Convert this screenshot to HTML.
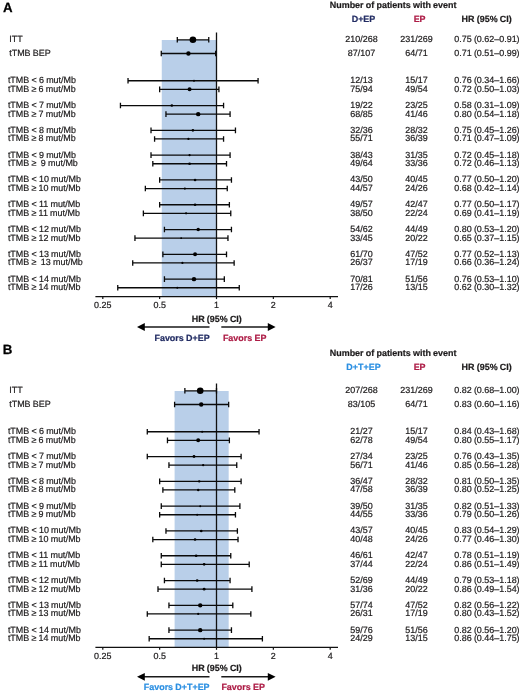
<!DOCTYPE html>
<html lang="en"><head><meta charset="utf-8"><title>Forest plot</title>
<style>html,body{margin:0;padding:0;background:#fff}body{width:520px;height:692px;overflow:hidden}svg{display:block}svg text{stroke:#1c1a1b;stroke-width:0.2px;word-spacing:-0.25px;text-rendering:geometricPrecision}</style>
</head><body>
<svg width="520" height="692" viewBox="0 0 520 692" font-family="'Liberation Sans', sans-serif" font-size="8.95" fill="#1c1a1b">
<rect width="520" height="692" fill="#fff"/>
<rect x="161.77" y="40.00" width="54.40" height="256.60" fill="#b9cfe9"/>
<line x1="216.5" y1="32.50" x2="216.5" y2="296.60" stroke="#111" stroke-width="1.3"/>
<line x1="95.4" y1="296.60" x2="338" y2="296.60" stroke="#111" stroke-width="1.2"/>
<line x1="102.80" y1="296.60" x2="102.80" y2="299.10" stroke="#111" stroke-width="1.2"/>
<text x="102.80" y="308.30" text-anchor="middle">0.25</text>
<line x1="159.65" y1="296.60" x2="159.65" y2="299.10" stroke="#111" stroke-width="1.2"/>
<text x="159.65" y="308.30" text-anchor="middle">0.5</text>
<line x1="216.50" y1="296.60" x2="216.50" y2="299.10" stroke="#111" stroke-width="1.2"/>
<text x="216.50" y="308.30" text-anchor="middle">1</text>
<line x1="273.35" y1="296.60" x2="273.35" y2="299.10" stroke="#111" stroke-width="1.2"/>
<text x="273.35" y="308.30" text-anchor="middle">2</text>
<line x1="330.20" y1="296.60" x2="330.20" y2="299.10" stroke="#111" stroke-width="1.2"/>
<text x="330.20" y="308.30" text-anchor="middle">4</text>
<text x="2.9" y="12" font-size="13.3" font-weight="bold" style="fill:#000;stroke:#000;stroke-width:.25px">A</text>
<text x="329.8" y="7.5" font-weight="bold">Number of patients with event</text>
<text x="363.5" y="21.7" font-weight="bold" text-anchor="middle" style="fill:#222c63;stroke:#222c63">D+EP</text>
<text x="419.6" y="21.7" font-weight="bold" text-anchor="middle" style="fill:#ad1b45;stroke:#ad1b45">EP</text>
<text x="486.7" y="21.7" font-weight="bold" text-anchor="middle">HR (95% CI)</text>
<text x="9.2" y="42.10" xml:space="preserve">ITT</text>
<text x="361.5" y="42.10" text-anchor="middle">210/268</text>
<text x="416.5" y="42.10" text-anchor="middle">231/269</text>
<text x="519.6" y="42.10" text-anchor="end">0.75 (0.62–0.91)</text>
<path d="M177.29 39.80H208.76M177.29 37.00V42.60M208.76 37.00V42.60" stroke="#0a0a0a" stroke-width="1.3" fill="none"/>
<circle cx="192.91" cy="39.80" r="3.30" fill="#000"/>
<text x="9.2" y="55.80" xml:space="preserve">tTMB BEP</text>
<text x="361.5" y="55.80" text-anchor="middle">87/107</text>
<text x="416.5" y="55.80" text-anchor="middle">64/71</text>
<text x="519.6" y="55.80" text-anchor="end">0.71 (0.51–0.99)</text>
<path d="M161.27 53.50H215.68M161.27 50.70V56.30M215.68 50.70V56.30" stroke="#0a0a0a" stroke-width="1.3" fill="none"/>
<circle cx="188.41" cy="53.50" r="2.20" fill="#000"/>
<text x="7.9" y="83.25" xml:space="preserve">tTMB &lt; 6 mut/Mb</text>
<text x="361.5" y="83.25" text-anchor="middle">12/13</text>
<text x="416.5" y="83.25" text-anchor="middle">15/17</text>
<text x="519.6" y="83.25" text-anchor="end">0.76 (0.34–1.66)</text>
<path d="M128.02 80.75H258.07M128.02 77.95V83.55M258.07 77.95V83.55" stroke="#0a0a0a" stroke-width="1.3" fill="none"/>
<circle cx="193.99" cy="80.75" r="1.10" fill="#000"/>
<text x="7.9" y="91.85" xml:space="preserve">tTMB ≥ 6 mut/Mb</text>
<text x="361.5" y="91.85" text-anchor="middle">75/94</text>
<text x="416.5" y="91.85" text-anchor="middle">49/54</text>
<text x="519.6" y="91.85" text-anchor="end">0.72 (0.50–1.03)</text>
<path d="M159.65 89.35H218.92M159.65 86.55V92.15M218.92 86.55V92.15" stroke="#0a0a0a" stroke-width="1.3" fill="none"/>
<circle cx="189.56" cy="89.35" r="1.98" fill="#000"/>
<text x="7.9" y="108.05" xml:space="preserve">tTMB &lt; 7 mut/Mb</text>
<text x="361.5" y="108.05" text-anchor="middle">19/22</text>
<text x="416.5" y="108.05" text-anchor="middle">23/25</text>
<text x="519.6" y="108.05" text-anchor="end">0.58 (0.31–1.09)</text>
<path d="M120.44 105.55H223.57M120.44 102.75V108.35M223.57 102.75V108.35" stroke="#0a0a0a" stroke-width="1.3" fill="none"/>
<circle cx="171.82" cy="105.55" r="1.32" fill="#000"/>
<text x="7.9" y="116.65" xml:space="preserve">tTMB ≥ 7 mut/Mb</text>
<text x="361.5" y="116.65" text-anchor="middle">68/85</text>
<text x="416.5" y="116.65" text-anchor="middle">41/46</text>
<text x="519.6" y="116.65" text-anchor="end">0.80 (0.54–1.18)</text>
<path d="M165.96 114.15H230.08M165.96 111.35V116.95M230.08 111.35V116.95" stroke="#0a0a0a" stroke-width="1.3" fill="none"/>
<circle cx="198.20" cy="114.15" r="2.20" fill="#000"/>
<text x="7.9" y="132.85" xml:space="preserve">tTMB &lt; 8 mut/Mb</text>
<text x="361.5" y="132.85" text-anchor="middle">32/36</text>
<text x="416.5" y="132.85" text-anchor="middle">28/32</text>
<text x="519.6" y="132.85" text-anchor="end">0.75 (0.45–1.26)</text>
<path d="M151.01 130.35H235.46M151.01 127.55V133.15M235.46 127.55V133.15" stroke="#0a0a0a" stroke-width="1.3" fill="none"/>
<circle cx="192.91" cy="130.35" r="1.32" fill="#000"/>
<text x="7.9" y="141.45" xml:space="preserve">tTMB ≥ 8 mut/Mb</text>
<text x="361.5" y="141.45" text-anchor="middle">55/71</text>
<text x="416.5" y="141.45" text-anchor="middle">36/39</text>
<text x="519.6" y="141.45" text-anchor="end">0.71 (0.47–1.09)</text>
<path d="M154.58 138.95H223.57M154.58 136.15V141.75M223.57 136.15V141.75" stroke="#0a0a0a" stroke-width="1.3" fill="none"/>
<circle cx="188.41" cy="138.95" r="1.10" fill="#000"/>
<text x="7.9" y="157.65" xml:space="preserve">tTMB &lt; 9 mut/Mb</text>
<text x="361.5" y="157.65" text-anchor="middle">38/43</text>
<text x="416.5" y="157.65" text-anchor="middle">31/35</text>
<text x="519.6" y="157.65" text-anchor="end">0.72 (0.45–1.18)</text>
<path d="M151.01 155.15H230.08M151.01 152.35V157.95M230.08 152.35V157.95" stroke="#0a0a0a" stroke-width="1.3" fill="none"/>
<circle cx="189.56" cy="155.15" r="1.10" fill="#000"/>
<text x="7.9" y="166.25" xml:space="preserve">tTMB ≥  9 mut/Mb</text>
<text x="361.5" y="166.25" text-anchor="middle">49/64</text>
<text x="416.5" y="166.25" text-anchor="middle">33/36</text>
<text x="519.6" y="166.25" text-anchor="end">0.72 (0.46–1.13)</text>
<path d="M152.81 163.75H226.52M152.81 160.95V166.55M226.52 160.95V166.55" stroke="#0a0a0a" stroke-width="1.3" fill="none"/>
<circle cx="189.56" cy="163.75" r="1.32" fill="#000"/>
<text x="7.9" y="182.45" xml:space="preserve">tTMB &lt; 10 mut/Mb</text>
<text x="361.5" y="182.45" text-anchor="middle">43/50</text>
<text x="416.5" y="182.45" text-anchor="middle">40/45</text>
<text x="519.6" y="182.45" text-anchor="end">0.77 (0.50–1.20)</text>
<path d="M159.65 179.95H231.45M159.65 177.15V182.75M231.45 177.15V182.75" stroke="#0a0a0a" stroke-width="1.3" fill="none"/>
<circle cx="195.06" cy="179.95" r="1.32" fill="#000"/>
<text x="7.9" y="191.05" xml:space="preserve">tTMB ≥ 10 mut/Mb</text>
<text x="361.5" y="191.05" text-anchor="middle">44/57</text>
<text x="416.5" y="191.05" text-anchor="middle">24/26</text>
<text x="519.6" y="191.05" text-anchor="end">0.68 (0.42–1.14)</text>
<path d="M145.35 188.55H227.25M145.35 185.75V191.35M227.25 185.75V191.35" stroke="#0a0a0a" stroke-width="1.3" fill="none"/>
<circle cx="184.87" cy="188.55" r="1.10" fill="#000"/>
<text x="7.9" y="207.25" xml:space="preserve">tTMB &lt; 11 mut/Mb</text>
<text x="361.5" y="207.25" text-anchor="middle">49/57</text>
<text x="416.5" y="207.25" text-anchor="middle">42/47</text>
<text x="519.6" y="207.25" text-anchor="end">0.77 (0.50–1.17)</text>
<path d="M159.65 204.75H229.38M159.65 201.95V207.55M229.38 201.95V207.55" stroke="#0a0a0a" stroke-width="1.3" fill="none"/>
<circle cx="195.06" cy="204.75" r="1.32" fill="#000"/>
<text x="7.9" y="215.85" xml:space="preserve">tTMB ≥ 11 mut/Mb</text>
<text x="361.5" y="215.85" text-anchor="middle">38/50</text>
<text x="416.5" y="215.85" text-anchor="middle">22/24</text>
<text x="519.6" y="215.85" text-anchor="end">0.69 (0.41–1.19)</text>
<path d="M143.37 213.35H230.77M143.37 210.55V216.15M230.77 210.55V216.15" stroke="#0a0a0a" stroke-width="1.3" fill="none"/>
<circle cx="186.07" cy="213.35" r="1.10" fill="#000"/>
<text x="7.9" y="232.05" xml:space="preserve">tTMB &lt; 12 mut/Mb</text>
<text x="361.5" y="232.05" text-anchor="middle">54/62</text>
<text x="416.5" y="232.05" text-anchor="middle">44/49</text>
<text x="519.6" y="232.05" text-anchor="end">0.80 (0.53–1.20)</text>
<path d="M164.43 229.55H231.45M164.43 226.75V232.35M231.45 226.75V232.35" stroke="#0a0a0a" stroke-width="1.3" fill="none"/>
<circle cx="198.20" cy="229.55" r="1.76" fill="#000"/>
<text x="7.9" y="240.65" xml:space="preserve">tTMB ≥ 12 mut/Mb</text>
<text x="361.5" y="240.65" text-anchor="middle">33/45</text>
<text x="416.5" y="240.65" text-anchor="middle">20/22</text>
<text x="519.6" y="240.65" text-anchor="end">0.65 (0.37–1.15)</text>
<path d="M134.95 238.15H227.96M134.95 235.35V240.95M227.96 235.35V240.95" stroke="#0a0a0a" stroke-width="1.3" fill="none"/>
<circle cx="181.17" cy="238.15" r="0.88" fill="#000"/>
<text x="7.9" y="256.85" xml:space="preserve">tTMB &lt; 13 mut/Mb</text>
<text x="361.5" y="256.85" text-anchor="middle">61/70</text>
<text x="416.5" y="256.85" text-anchor="middle">47/52</text>
<text x="519.6" y="256.85" text-anchor="end">0.77 (0.52–1.13)</text>
<path d="M162.87 254.35H226.52M162.87 251.55V257.15M226.52 251.55V257.15" stroke="#0a0a0a" stroke-width="1.3" fill="none"/>
<circle cx="195.06" cy="254.35" r="1.98" fill="#000"/>
<text x="7.9" y="265.45" xml:space="preserve">tTMB ≥  13 mut/Mb</text>
<text x="361.5" y="265.45" text-anchor="middle">26/37</text>
<text x="416.5" y="265.45" text-anchor="middle">17/19</text>
<text x="519.6" y="265.45" text-anchor="end">0.66 (0.36–1.24)</text>
<path d="M132.71 262.95H234.14M132.71 260.15V265.75M234.14 260.15V265.75" stroke="#0a0a0a" stroke-width="1.3" fill="none"/>
<circle cx="182.42" cy="262.95" r="1.10" fill="#000"/>
<text x="7.9" y="281.65" xml:space="preserve">tTMB &lt; 14 mut/Mb</text>
<text x="361.5" y="281.65" text-anchor="middle">70/81</text>
<text x="416.5" y="281.65" text-anchor="middle">51/56</text>
<text x="519.6" y="281.65" text-anchor="end">0.76 (0.53–1.10)</text>
<path d="M164.43 279.15H224.32M164.43 276.35V281.95M224.32 276.35V281.95" stroke="#0a0a0a" stroke-width="1.3" fill="none"/>
<circle cx="193.99" cy="279.15" r="2.20" fill="#000"/>
<text x="7.9" y="290.25" xml:space="preserve">tTMB ≥ 14 mut/Mb</text>
<text x="361.5" y="290.25" text-anchor="middle">17/26</text>
<text x="416.5" y="290.25" text-anchor="middle">13/15</text>
<text x="519.6" y="290.25" text-anchor="end">0.62 (0.30–1.32)</text>
<path d="M117.75 287.75H239.27M117.75 284.95V290.55M239.27 284.95V290.55" stroke="#0a0a0a" stroke-width="1.3" fill="none"/>
<circle cx="177.29" cy="287.75" r="0.99" fill="#000"/>
<text x="216.75" y="321.50" font-weight="bold" text-anchor="middle">HR (95% CI)</text>
<path d="M144 327.00H209.5M221.3 327.00H269" stroke="#1a1a1a" stroke-width="1.4" fill="none"/>
<path d="M137.0 327.00L144.8 323.10V330.90ZM275.6 327.00L267.8 323.10V330.90Z" fill="#000"/>
<text x="209.6" y="341.20" font-weight="bold" text-anchor="end" style="fill:#222c63;stroke:#222c63">Favors D+EP</text>
<text x="222.9" y="340.70" font-weight="bold" style="fill:#ad1b45;stroke:#ad1b45">Favors EP</text>
<rect x="174.60" y="391.00" width="54.07" height="256.30" fill="#b9cfe9"/>
<line x1="216.5" y1="383.50" x2="216.5" y2="647.30" stroke="#111" stroke-width="1.3"/>
<line x1="95.4" y1="647.30" x2="338" y2="647.30" stroke="#111" stroke-width="1.2"/>
<line x1="102.80" y1="647.30" x2="102.80" y2="649.80" stroke="#111" stroke-width="1.2"/>
<text x="102.80" y="659.00" text-anchor="middle">0.25</text>
<line x1="159.65" y1="647.30" x2="159.65" y2="649.80" stroke="#111" stroke-width="1.2"/>
<text x="159.65" y="659.00" text-anchor="middle">0.5</text>
<line x1="216.50" y1="647.30" x2="216.50" y2="649.80" stroke="#111" stroke-width="1.2"/>
<text x="216.50" y="659.00" text-anchor="middle">1</text>
<line x1="273.35" y1="647.30" x2="273.35" y2="649.80" stroke="#111" stroke-width="1.2"/>
<text x="273.35" y="659.00" text-anchor="middle">2</text>
<line x1="330.20" y1="647.30" x2="330.20" y2="649.80" stroke="#111" stroke-width="1.2"/>
<text x="330.20" y="659.00" text-anchor="middle">4</text>
<text x="2.7" y="354" font-size="13.3" font-weight="bold" style="fill:#000;stroke:#000;stroke-width:.25px">B</text>
<text x="329.8" y="356" font-weight="bold">Number of patients with event</text>
<text x="363.5" y="370.2" font-weight="bold" text-anchor="middle" style="fill:#2b8fe2;stroke:#2b8fe2">D+T+EP</text>
<text x="419.6" y="370.2" font-weight="bold" text-anchor="middle" style="fill:#ad1b45;stroke:#ad1b45">EP</text>
<text x="486.7" y="370.2" font-weight="bold" text-anchor="middle">HR (95% CI)</text>
<text x="9.2" y="393.10" xml:space="preserve">ITT</text>
<text x="361.5" y="393.10" text-anchor="middle">207/268</text>
<text x="416.5" y="393.10" text-anchor="middle">231/269</text>
<text x="519.6" y="393.10" text-anchor="end">0.82 (0.68–1.00)</text>
<path d="M184.87 390.80H216.50M184.87 388.00V393.60M216.50 388.00V393.60" stroke="#0a0a0a" stroke-width="1.3" fill="none"/>
<circle cx="200.22" cy="390.80" r="3.30" fill="#000"/>
<text x="9.2" y="406.80" xml:space="preserve">tTMB BEP</text>
<text x="361.5" y="406.80" text-anchor="middle">83/105</text>
<text x="416.5" y="406.80" text-anchor="middle">64/71</text>
<text x="519.6" y="406.80" text-anchor="end">0.83 (0.60–1.16)</text>
<path d="M174.60 404.50H228.67M174.60 401.70V407.30M228.67 401.70V407.30" stroke="#0a0a0a" stroke-width="1.3" fill="none"/>
<circle cx="201.22" cy="404.50" r="2.20" fill="#000"/>
<text x="7.9" y="434.25" xml:space="preserve">tTMB &lt; 6 mut/Mb</text>
<text x="361.5" y="434.25" text-anchor="middle">21/27</text>
<text x="416.5" y="434.25" text-anchor="middle">15/17</text>
<text x="519.6" y="434.25" text-anchor="end">0.84 (0.43–1.68)</text>
<path d="M147.28 431.75H259.05M147.28 428.95V434.55M259.05 428.95V434.55" stroke="#0a0a0a" stroke-width="1.3" fill="none"/>
<circle cx="202.20" cy="431.75" r="1.10" fill="#000"/>
<text x="7.9" y="442.85" xml:space="preserve">tTMB ≥ 6 mut/Mb</text>
<text x="361.5" y="442.85" text-anchor="middle">62/78</text>
<text x="416.5" y="442.85" text-anchor="middle">49/54</text>
<text x="519.6" y="442.85" text-anchor="end">0.80 (0.55–1.17)</text>
<path d="M167.47 440.35H229.38M167.47 437.55V443.15M229.38 437.55V443.15" stroke="#0a0a0a" stroke-width="1.3" fill="none"/>
<circle cx="198.20" cy="440.35" r="1.98" fill="#000"/>
<text x="7.9" y="459.05" xml:space="preserve">tTMB &lt; 7 mut/Mb</text>
<text x="361.5" y="459.05" text-anchor="middle">27/34</text>
<text x="416.5" y="459.05" text-anchor="middle">23/25</text>
<text x="519.6" y="459.05" text-anchor="end">0.76 (0.43–1.35)</text>
<path d="M147.28 456.55H241.11M147.28 453.75V459.35M241.11 453.75V459.35" stroke="#0a0a0a" stroke-width="1.3" fill="none"/>
<circle cx="193.99" cy="456.55" r="1.43" fill="#000"/>
<text x="7.9" y="467.65" xml:space="preserve">tTMB ≥ 7 mut/Mb</text>
<text x="361.5" y="467.65" text-anchor="middle">56/71</text>
<text x="416.5" y="467.65" text-anchor="middle">41/46</text>
<text x="519.6" y="467.65" text-anchor="end">0.85 (0.56–1.28)</text>
<path d="M168.94 465.15H236.75M168.94 462.35V467.95M236.75 462.35V467.95" stroke="#0a0a0a" stroke-width="1.3" fill="none"/>
<circle cx="203.17" cy="465.15" r="1.10" fill="#000"/>
<text x="7.9" y="483.85" xml:space="preserve">tTMB &lt; 8 mut/Mb</text>
<text x="361.5" y="483.85" text-anchor="middle">36/47</text>
<text x="416.5" y="483.85" text-anchor="middle">28/32</text>
<text x="519.6" y="483.85" text-anchor="end">0.81 (0.50–1.35)</text>
<path d="M159.65 481.35H241.11M159.65 478.55V484.15M241.11 478.55V484.15" stroke="#0a0a0a" stroke-width="1.3" fill="none"/>
<circle cx="199.22" cy="481.35" r="1.21" fill="#000"/>
<text x="7.9" y="492.45" xml:space="preserve">tTMB ≥ 8 mut/Mb</text>
<text x="361.5" y="492.45" text-anchor="middle">47/58</text>
<text x="416.5" y="492.45" text-anchor="middle">36/39</text>
<text x="519.6" y="492.45" text-anchor="end">0.80 (0.52–1.25)</text>
<path d="M162.87 489.95H234.80M162.87 487.15V492.75M234.80 487.15V492.75" stroke="#0a0a0a" stroke-width="1.3" fill="none"/>
<circle cx="198.20" cy="489.95" r="1.21" fill="#000"/>
<text x="7.9" y="508.65" xml:space="preserve">tTMB &lt; 9 mut/Mb</text>
<text x="361.5" y="508.65" text-anchor="middle">39/50</text>
<text x="416.5" y="508.65" text-anchor="middle">31/35</text>
<text x="519.6" y="508.65" text-anchor="end">0.82 (0.51–1.33)</text>
<path d="M161.27 506.15H239.89M161.27 503.35V508.95M239.89 503.35V508.95" stroke="#0a0a0a" stroke-width="1.3" fill="none"/>
<circle cx="200.22" cy="506.15" r="0.99" fill="#000"/>
<text x="7.9" y="517.25" xml:space="preserve">tTMB ≥ 9 mut/Mb</text>
<text x="361.5" y="517.25" text-anchor="middle">44/55</text>
<text x="416.5" y="517.25" text-anchor="middle">33/36</text>
<text x="519.6" y="517.25" text-anchor="end">0.79 (0.50–1.26)</text>
<path d="M159.65 514.75H235.46M159.65 511.95V517.55M235.46 511.95V517.55" stroke="#0a0a0a" stroke-width="1.3" fill="none"/>
<circle cx="197.17" cy="514.75" r="0.99" fill="#000"/>
<text x="7.9" y="533.45" xml:space="preserve">tTMB &lt; 10 mut/Mb</text>
<text x="361.5" y="533.45" text-anchor="middle">43/57</text>
<text x="416.5" y="533.45" text-anchor="middle">40/45</text>
<text x="519.6" y="533.45" text-anchor="end">0.83 (0.54–1.29)</text>
<path d="M165.96 530.95H237.39M165.96 528.15V533.75M237.39 528.15V533.75" stroke="#0a0a0a" stroke-width="1.3" fill="none"/>
<circle cx="201.22" cy="530.95" r="1.32" fill="#000"/>
<text x="7.9" y="542.05" xml:space="preserve">tTMB ≥ 10 mut/Mb</text>
<text x="361.5" y="542.05" text-anchor="middle">40/48</text>
<text x="416.5" y="542.05" text-anchor="middle">24/26</text>
<text x="519.6" y="542.05" text-anchor="end">0.77 (0.46–1.30)</text>
<path d="M152.81 539.55H238.02M152.81 536.75V542.35M238.02 536.75V542.35" stroke="#0a0a0a" stroke-width="1.3" fill="none"/>
<circle cx="195.06" cy="539.55" r="1.32" fill="#000"/>
<text x="7.9" y="558.25" xml:space="preserve">tTMB &lt; 11 mut/Mb</text>
<text x="361.5" y="558.25" text-anchor="middle">46/61</text>
<text x="416.5" y="558.25" text-anchor="middle">42/47</text>
<text x="519.6" y="558.25" text-anchor="end">0.78 (0.51–1.19)</text>
<path d="M161.27 555.75H230.77M161.27 552.95V558.55M230.77 552.95V558.55" stroke="#0a0a0a" stroke-width="1.3" fill="none"/>
<circle cx="196.12" cy="555.75" r="1.32" fill="#000"/>
<text x="7.9" y="566.85" xml:space="preserve">tTMB ≥ 11 mut/Mb</text>
<text x="361.5" y="566.85" text-anchor="middle">37/44</text>
<text x="416.5" y="566.85" text-anchor="middle">22/24</text>
<text x="519.6" y="566.85" text-anchor="end">0.86 (0.51–1.49)</text>
<path d="M161.27 564.35H249.21M161.27 561.55V567.15M249.21 561.55V567.15" stroke="#0a0a0a" stroke-width="1.3" fill="none"/>
<circle cx="204.13" cy="564.35" r="1.32" fill="#000"/>
<text x="7.9" y="583.05" xml:space="preserve">tTMB &lt; 12 mut/Mb</text>
<text x="361.5" y="583.05" text-anchor="middle">52/69</text>
<text x="416.5" y="583.05" text-anchor="middle">44/49</text>
<text x="519.6" y="583.05" text-anchor="end">0.79 (0.53–1.18)</text>
<path d="M164.43 580.55H230.08M164.43 577.75V583.35M230.08 577.75V583.35" stroke="#0a0a0a" stroke-width="1.3" fill="none"/>
<circle cx="197.17" cy="580.55" r="1.32" fill="#000"/>
<text x="7.9" y="591.65" xml:space="preserve">tTMB ≥ 12 mut/Mb</text>
<text x="361.5" y="591.65" text-anchor="middle">31/36</text>
<text x="416.5" y="591.65" text-anchor="middle">20/22</text>
<text x="519.6" y="591.65" text-anchor="end">0.86 (0.49–1.54)</text>
<path d="M157.99 589.15H251.91M157.99 586.35V591.95M251.91 586.35V591.95" stroke="#0a0a0a" stroke-width="1.3" fill="none"/>
<circle cx="204.13" cy="589.15" r="1.43" fill="#000"/>
<text x="7.9" y="607.85" xml:space="preserve">tTMB &lt; 13 mut/Mb</text>
<text x="361.5" y="607.85" text-anchor="middle">57/74</text>
<text x="416.5" y="607.85" text-anchor="middle">47/52</text>
<text x="519.6" y="607.85" text-anchor="end">0.82 (0.56–1.22)</text>
<path d="M168.94 605.35H232.81M168.94 602.55V608.15M232.81 602.55V608.15" stroke="#0a0a0a" stroke-width="1.3" fill="none"/>
<circle cx="200.22" cy="605.35" r="2.20" fill="#000"/>
<text x="7.9" y="616.45" xml:space="preserve">tTMB ≥ 13 mut/Mb</text>
<text x="361.5" y="616.45" text-anchor="middle">26/31</text>
<text x="416.5" y="616.45" text-anchor="middle">17/19</text>
<text x="519.6" y="616.45" text-anchor="end">0.80 (0.43–1.52)</text>
<path d="M147.28 613.95H250.84M147.28 611.15V616.75M250.84 611.15V616.75" stroke="#0a0a0a" stroke-width="1.3" fill="none"/>
<circle cx="198.20" cy="613.95" r="1.10" fill="#000"/>
<text x="7.9" y="632.65" xml:space="preserve">tTMB &lt; 14 mut/Mb</text>
<text x="361.5" y="632.65" text-anchor="middle">59/76</text>
<text x="416.5" y="632.65" text-anchor="middle">51/56</text>
<text x="519.6" y="632.65" text-anchor="end">0.82 (0.56–1.20)</text>
<path d="M168.94 630.15H231.45M168.94 627.35V632.95M231.45 627.35V632.95" stroke="#0a0a0a" stroke-width="1.3" fill="none"/>
<circle cx="200.22" cy="630.15" r="2.20" fill="#000"/>
<text x="7.9" y="641.25" xml:space="preserve">tTMB ≥ 14 mut/Mb</text>
<text x="361.5" y="641.25" text-anchor="middle">24/29</text>
<text x="416.5" y="641.25" text-anchor="middle">13/15</text>
<text x="519.6" y="641.25" text-anchor="end">0.86 (0.44–1.75)</text>
<path d="M149.17 638.75H262.40M149.17 635.95V641.55M262.40 635.95V641.55" stroke="#0a0a0a" stroke-width="1.3" fill="none"/>
<circle cx="204.13" cy="638.75" r="1.10" fill="#000"/>
<text x="216.75" y="670.50" font-weight="bold" text-anchor="middle">HR (95% CI)</text>
<path d="M144 676.80H209.5M221.3 676.80H269" stroke="#1a1a1a" stroke-width="1.4" fill="none"/>
<path d="M137.0 676.80L144.8 672.90V680.70ZM275.6 676.80L267.8 672.90V680.70Z" fill="#000"/>
<text x="209.6" y="690.20" font-weight="bold" text-anchor="end" style="fill:#2b8fe2;stroke:#2b8fe2">Favors D+T+EP</text>
<text x="221.4" y="689.70" font-weight="bold" style="fill:#ad1b45;stroke:#ad1b45">Favors EP</text>
</svg>
</body></html>
